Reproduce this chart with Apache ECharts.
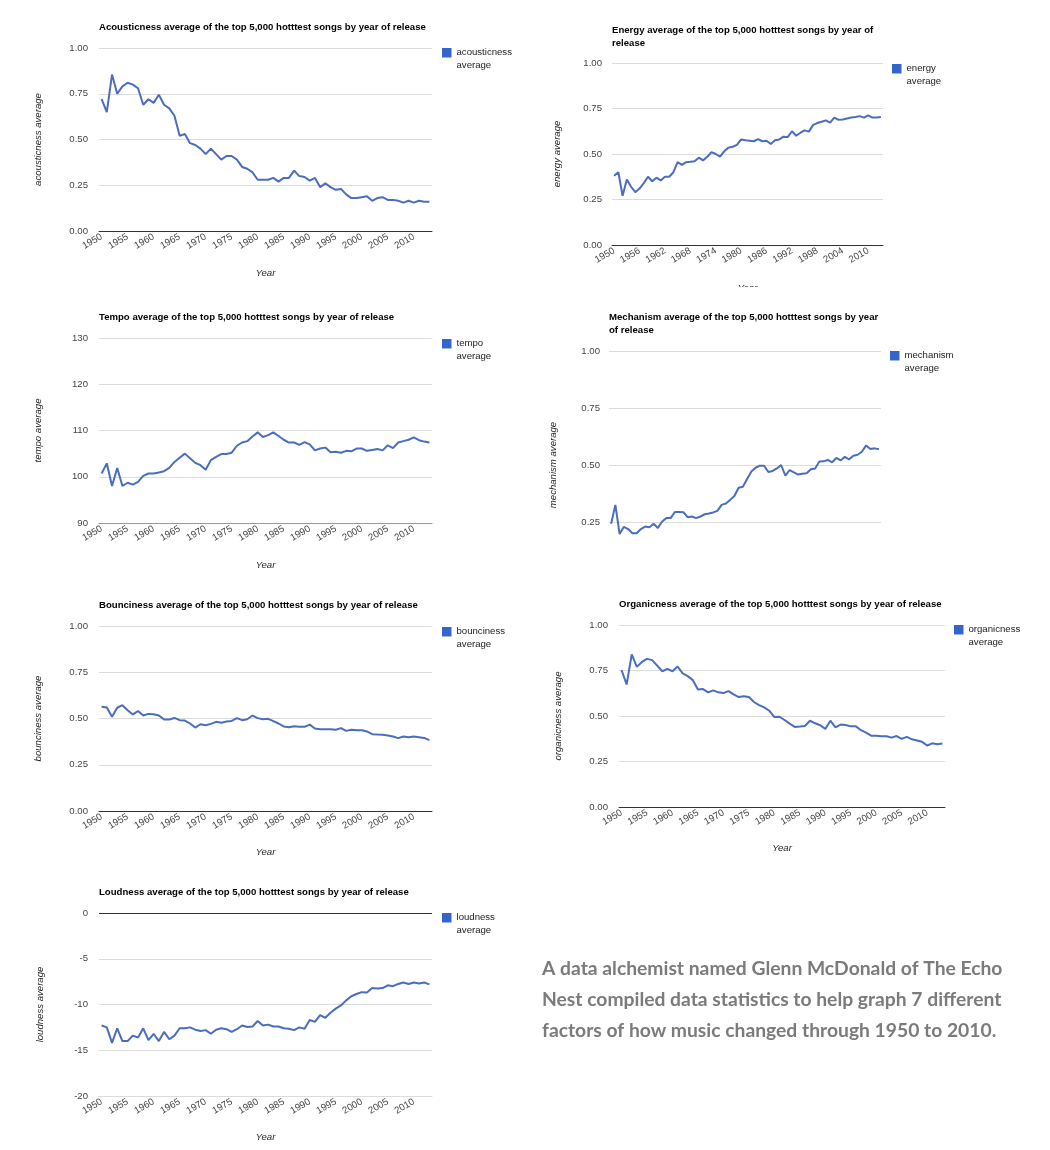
<!DOCTYPE html>
<html>
<head>
<meta charset="utf-8">
<script src="https://cdn.jsdelivr.net/npm/echarts@6/dist/echarts.min.js"></script>
<style>
html,body{margin:0;padding:0;background:#fff;}
#chart{width:1050px;height:1150px;}
</style>
</head>
<body>
<div id="chart"></div>
<script>
// ---- data (1950–2013) ----
const years = ['1950','1951','1952','1953','1954','1955','1956','1957','1958','1959',
'1960','1961','1962','1963','1964','1965','1966','1967','1968','1969',
'1970','1971','1972','1973','1974','1975','1976','1977','1978','1979',
'1980','1981','1982','1983','1984','1985','1986','1987','1988','1989',
'1990','1991','1992','1993','1994','1995','1996','1997','1998','1999',
'2000','2001','2002','2003','2004','2005','2006','2007','2008','2009',
'2010','2011','2012','2013'];

const acousticness = [0.72,0.65,0.855,0.75,0.79,0.81,0.80,0.78,0.69,0.72,
0.70,0.745,0.69,0.67,0.63,0.52,0.53,0.48,0.47,0.45,
0.42,0.45,0.42,0.39,0.41,0.41,0.39,0.35,0.34,0.32,
0.28,0.28,0.28,0.29,0.27,0.29,0.29,0.33,0.30,0.295,
0.275,0.29,0.24,0.26,0.24,0.225,0.23,0.20,0.18,0.18,
0.185,0.19,0.165,0.18,0.185,0.17,0.17,0.165,0.155,0.165,
0.155,0.165,0.16,0.16];

const energy = [0.38,0.40,0.27,0.36,0.32,0.29,0.31,0.34,0.375,0.35,
0.37,0.355,0.375,0.375,0.40,0.455,0.44,0.455,0.457,0.46,
0.48,0.465,0.485,0.51,0.50,0.485,0.515,0.535,0.54,0.55,
0.58,0.575,0.573,0.57,0.582,0.57,0.573,0.555,0.575,0.58,
0.595,0.593,0.625,0.60,0.617,0.63,0.623,0.66,0.67,0.677,
0.685,0.672,0.70,0.688,0.69,0.695,0.70,0.703,0.708,0.70,
0.712,0.70,0.70,0.703];

const tempo = [100.7,102.9,98.0,101.9,98.0,98.7,98.3,98.9,100.2,100.7,
100.7,100.9,101.2,101.9,103.2,104.1,105.0,104.0,103.0,102.5,
101.5,103.6,104.3,104.9,104.9,105.2,106.7,107.4,107.7,108.7,
109.6,108.6,109.0,109.6,108.8,108.0,107.4,107.4,106.9,107.5,
107.0,105.7,106.1,106.3,105.3,105.4,105.2,105.6,105.5,106.1,
106.1,105.6,105.8,106.0,105.7,106.8,106.2,107.4,107.7,108.0,
108.5,107.9,107.6,107.4];

const mechanism = [0.242,0.325,0.197,0.229,0.219,0.201,0.201,0.219,0.230,0.227,
0.242,0.224,0.252,0.267,0.267,0.294,0.294,0.293,0.271,0.274,
0.267,0.274,0.284,0.287,0.292,0.299,0.325,0.331,0.347,0.364,
0.40,0.405,0.439,0.471,0.488,0.497,0.497,0.469,0.474,0.485,
0.50,0.453,0.478,0.468,0.458,0.462,0.464,0.481,0.485,0.515,
0.516,0.522,0.512,0.531,0.52,0.536,0.525,0.541,0.545,0.558,
0.586,0.570,0.573,0.569];

const bounciness = [0.563,0.56,0.509,0.558,0.572,0.545,0.522,0.54,0.516,0.525,
0.523,0.516,0.495,0.495,0.503,0.491,0.489,0.473,0.451,0.469,
0.464,0.471,0.482,0.477,0.484,0.487,0.502,0.491,0.496,0.516,
0.502,0.496,0.498,0.486,0.473,0.457,0.453,0.458,0.455,0.455,
0.467,0.446,0.442,0.442,0.442,0.439,0.448,0.433,0.439,0.437,
0.437,0.43,0.415,0.413,0.412,0.408,0.403,0.394,0.403,0.399,
0.403,0.399,0.395,0.383];

const organicness = [0.752,0.673,0.839,0.77,0.797,0.814,0.807,0.777,0.746,0.759,
0.746,0.772,0.734,0.719,0.697,0.646,0.648,0.63,0.641,0.63,
0.626,0.637,0.619,0.604,0.608,0.604,0.577,0.56,0.547,0.529,
0.494,0.496,0.478,0.458,0.44,0.442,0.445,0.474,0.46,0.449,
0.429,0.474,0.438,0.453,0.451,0.443,0.443,0.422,0.409,0.392,
0.392,0.389,0.389,0.381,0.39,0.374,0.385,0.372,0.365,0.358,
0.338,0.35,0.345,0.349];

const loudness = [-12.3,-12.5,-14.2,-12.6,-14.0,-14.0,-13.4,-13.6,-12.6,-13.9,
-13.2,-14.0,-13.0,-13.8,-13.4,-12.6,-12.6,-12.5,-12.75,-12.9,
-12.8,-13.2,-12.75,-12.6,-12.7,-13.0,-12.7,-12.3,-12.45,-12.4,
-11.8,-12.3,-12.2,-12.4,-12.4,-12.6,-12.65,-12.8,-12.5,-12.65,
-11.7,-11.9,-11.15,-11.45,-10.9,-10.45,-10.1,-9.55,-9.1,-8.85,
-8.65,-8.7,-8.2,-8.25,-8.2,-7.9,-8.0,-7.75,-7.6,-7.75,
-7.6,-7.7,-7.6,-7.8];

const titles = [
  'Acousticness average of the top 5,000 hotttest songs by year of release',
  'Energy average of the top 5,000 hotttest songs by year of\nrelease',
  'Tempo average of the top 5,000 hotttest songs by year of release',
  'Mechanism average of the top 5,000 hotttest songs by year\nof release',
  'Bounciness average of the top 5,000 hotttest songs by year of release',
  'Organicness average of the top 5,000 hotttest songs by year of release',
  'Loudness average of the top 5,000 hotttest songs by year of release'
];
const seriesNames = ['acousticness average','energy average','tempo average','mechanism average',
  'bounciness average','organicness average','loudness average'];
const xAxisName = 'Year';
const note = 'A data alchemist named Glenn McDonald of The Echo\nNest compiled data statistics to help graph 7 different\nfactors of how music changed through 1950 to 2010.';

// ---- layout / styling ----
const FONT = '"Liberation Sans", Arial, sans-serif';
const FS = 9.6;
const GRID_C = '#dcdcdc';
const LINE_C = '#4a6dbd';
const ICON_C = '#3366cc';

const charts = [
  {data: acousticness, grid:[99,48,333,183],  titleTop:20.5, legend:[442,48], yMin:0, yMax:1, yInt:0.25, dec:2, xInt:4, yGap:56, xGap:37, lblM:11, base:'#333'},
  {data: energy,       grid:[612,63,271,182], titleTop:23.5, legend:[892,64], yMin:0, yMax:1, yInt:0.25, dec:2, xInt:5, yGap:50, xGap:38, lblM:10, base:'#333'},
  {data: tempo,        grid:[99,338,333,185], titleTop:310.5, legend:[442,339], yMin:90, yMax:130, yInt:10, dec:0, xInt:4, yGap:56, xGap:37, lblM:11, base:'#999'},
  {data: mechanism,    grid:[609,351,272,228], titleTop:310.5, legend:[890,351], yMin:0, yMax:1, yInt:0.25, dec:2, xInt:4, yGap:51, xGap:37, lblM:9, base:null, cut:true},
  {data: bounciness,   grid:[99,626,333,185], titleTop:598.5, legend:[442,627], yMin:0, yMax:1, yInt:0.25, dec:2, xInt:4, yGap:56, xGap:36, lblM:11, base:'#333'},
  {data: organicness,  grid:[619,625,326,182], titleTop:597.5, legend:[954,625], yMin:0, yMax:1, yInt:0.25, dec:2, xInt:4, yGap:56, xGap:36, lblM:11, base:'#333'},
  {data: loudness,     grid:[99,913,333,183], titleTop:885.5, legend:[442,913], yMin:-20, yMax:0, yInt:5, dec:0, xInt:4, yGap:54, xGap:36, lblM:11, base:GRID_C, topBase:true}
];

const option = {
  animation: false,
  backgroundColor: '#fff',
  textStyle: {fontFamily: FONT},
  title: [], legend: [], grid: [], xAxis: [], yAxis: [], series: [],
  graphic: []
};

charts.forEach((c, i) => {
  option.title.push({
    text: titles[i], left: c.grid[0], top: c.titleTop, padding: 0,
    textStyle: {fontFamily: FONT, fontSize: FS, fontWeight: 'bold', color: '#000', lineHeight: 13}
  });
  // legend text: an empty first line keeps the first word level with the colour square
  option.legend.push({
    data: [seriesNames[i]], left: c.legend[0], top: c.legend[1] - 14.75, padding: 0,
    orient: 'vertical', icon: 'rect', itemWidth: 9.5, itemHeight: 9.5, selectedMode: false,
    formatter: n => '\n' + n.replace(' ', '\n'),
    textStyle: {fontFamily: FONT, fontSize: FS, color: '#222', lineHeight: 13}
  });
  option.grid.push({left: c.grid[0], top: c.grid[1], width: c.grid[2], height: c.grid[3], containLabel: false});
  option.xAxis.push({
    type: 'category', gridIndex: i, data: years, boundaryGap: true,
    name: c.cut ? '' : xAxisName, nameLocation: 'middle', nameGap: c.xGap,
    nameTextStyle: {fontFamily: FONT, fontSize: FS, fontStyle: 'italic', color: '#222'},
    axisLine: {show: !!c.base, onZero: false, lineStyle: {color: c.base || GRID_C, width: 1}},
    axisTick: {show: false},
    axisLabel: {show: !c.cut, interval: c.xInt, rotate: 30, margin: 5, fontSize: FS, color: '#444', fontFamily: FONT},
    splitLine: {show: false}
  });
  const nTicks = Math.round((c.yMax - c.yMin) / c.yInt) + 1;
  let splitColors = GRID_C;
  if (c.topBase) { splitColors = []; for (let k = 0; k < nTicks; k++) splitColors.push(k === nTicks - 1 ? '#333' : GRID_C); }
  if (c.cut) { splitColors = []; for (let k = 0; k < nTicks; k++) splitColors.push(k === 0 ? 'rgba(0,0,0,0)' : GRID_C); }
  option.yAxis.push({
    type: 'value', gridIndex: i, min: c.yMin, max: c.yMax, interval: c.yInt,
    name: seriesNames[i], nameLocation: 'middle', nameGap: c.yGap,
    nameTextStyle: {fontFamily: FONT, fontSize: FS, fontStyle: 'italic', color: '#222'},
    axisLine: {show: false}, axisTick: {show: false},
    axisLabel: {margin: c.lblM, fontSize: FS, color: '#444', fontFamily: FONT,
      formatter: v => (c.cut && v === 0) ? '' : v.toFixed(c.dec)},
    splitLine: {show: true, lineStyle: {color: splitColors, width: 1}}
  });
  option.series.push({
    type: 'line', name: seriesNames[i], xAxisIndex: i, yAxisIndex: i, data: c.data,
    symbol: 'none', smooth: false,
    itemStyle: {color: ICON_C},
    lineStyle: {color: LINE_C, width: 2}
  });
});

// clip of the energy chart's "Year" label as in the source image
option.graphic.push({type: 'rect', z: 100, shape: {x: 520, y: 287, width: 530, height: 14}, style: {fill: '#fff'}});
option.graphic.push({
  type: 'text', left: 542, top: 953, z: 100,
  style: {text: note, font: 'bold 19.3px Lato, "Open Sans", sans-serif', fill: '#7b7b7b', lineHeight: 31}
});

const chart = echarts.init(document.getElementById('chart'), null, {renderer: 'canvas'});
chart.setOption(option);
</script>
</body>
</html>
